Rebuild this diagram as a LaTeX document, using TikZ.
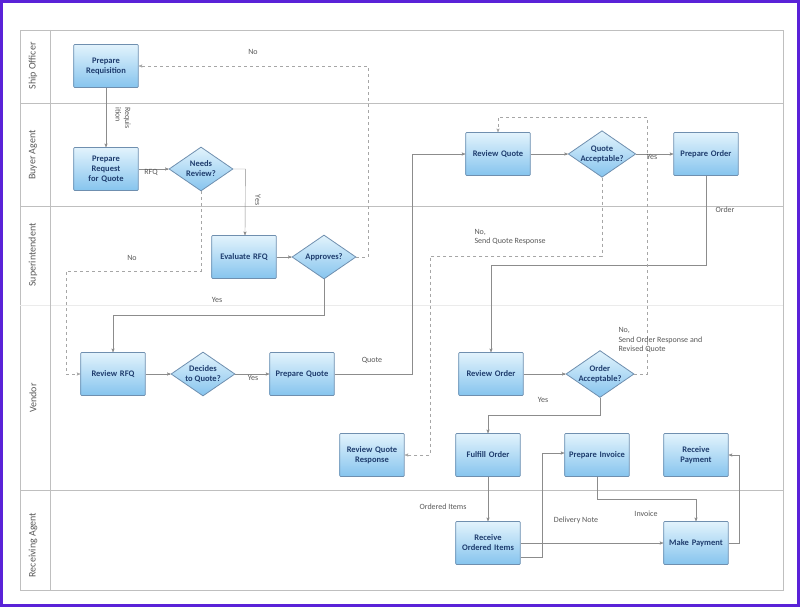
\documentclass[tikz,border=0pt]{standalone}
\usepackage{fontspec}
\setmainfont{Carlito}
\usepackage{tikz}
\usetikzlibrary{arrows, shapes.geometric, backgrounds}
\definecolor{boxtop}{HTML}{E2F3FC}
\definecolor{boxbot}{HTML}{86C4EE}
\definecolor{boxline}{HTML}{6F8FAF}
\definecolor{boxtext}{HTML}{1F3D6E}
\definecolor{frame}{HTML}{5A22D8}
\tikzstyle{task}=[rectangle, draw=boxline, top color=boxtop, bottom color=boxbot, thick, minimum width=64pt, minimum height=43pt, text width=58pt, align=center, font=\fontsize{8.5}{10}\selectfont\bfseries, text=boxtext, rounded corners=1pt]
\tikzstyle{decision}=[diamond, draw=boxline, top color=boxtop, bottom color=boxbot, thick, aspect=1.45, minimum width=64pt, minimum height=44pt, inner sep=0pt, align=center, font=\fontsize{8.5}{10}\selectfont\bfseries, text=boxtext]
\tikzstyle{flow}=[draw=black!45, -stealth']
\tikzstyle{alt}=[draw=black!35, dashed, -stealth']
\tikzstyle{lbl}=[font=\fontsize{8}{9.5}\selectfont, text=black!65, align=left]
\tikzstyle{lane}=[font=\fontsize{10}{12}\selectfont, text=black!65, rotate=90]

\begin{document}
\begin{tikzpicture}[x=1pt, y=-1pt]
    \useasboundingbox (0,0) rectangle (800,607);
    \draw[frame, line width=3pt] (1.5,1.5) rectangle (798.5,605.5);

    % lanes
    \draw[black!25] (20,30) rectangle (783,590);
    \foreach \y in {103, 206, 490}
        \draw[black!25] (20,\y) -- (783,\y);
    \draw[black!8] (20,305) -- (783,305);
    \draw[black!25] (50,30) -- (50,590);
    \node[lane] (ship) at (33,66) {Ship Officer};
    \node[lane] (buyer) at (33,155) {Buyer Agent};
    \node[lane] (super) at (33,255) {Superintendent};
    \node[lane] (vendor) at (33,398) {Vendor};
    \node[lane] (recv) at (33,545) {Receiving Agent};

    % tasks
    \node[task] (prepreq) at (106,66) {Prepare Requisition};
    \node[task] (preprfq) at (106,169) {Prepare Request for Quote};
    \node[decision] (needs) at (201,169) {Needs\\Review?};
    \node[task] (evalrfq) at (244,257) {Evaluate RFQ};
    \node[decision] (approves) at (324,257) {Approves?};
    \node[task] (reviewrfq) at (113,374) {Review RFQ};
    \node[decision] (decides) at (203,374) {Decides\\to Quote?};
    \node[task] (prepquote) at (302,374) {Prepare Quote};
    \node[task] (reviewquote) at (498,154) {Review Quote};
    \node[decision] (quoteok) at (602,154) {Quote\\Acceptable?};
    \node[task] (preporder) at (706,154) {Prepare Order};
    \node[task] (revieworder) at (491,374) {Review Order};
    \node[decision] (orderok) at (600,374) {Order\\Acceptable?};
    \node[task] (quoteresp) at (372,455) {Review Quote Response};
    \node[task] (fulfill) at (488,455) {Fulfill Order};
    \node[task] (invoice) at (597,455) {Prepare Invoice};
    \node[task] (recpay) at (696,455) {Receive Payment};
    \node[task] (recitems) at (488,543) {Receive Ordered Items};
    \node[task] (makepay) at (696,543) {Make Payment};

    % connectors
    \draw[flow] (prepreq) -- (preprfq);
    \node[lbl, rotate=-90] (lreq) at (123,118) {Requis\\ition};
    \draw[flow] (preprfq) -- (needs);
    \node[lbl] (lrfq) at (151,172) {RFQ};
    \draw[flow] (needs.east) -- ++(12,0) |- ++(0,0) -- (evalrfq.north -| 245,0);
    \node[lbl, rotate=-90] (lyes1) at (258,200) {Yes};
    \draw[alt] (needs.south) |- (66,271) |- (reviewrfq.west);
    \node[lbl] (lno1) at (132,258) {No};
    \draw[flow] (evalrfq) -- (approves);
    \draw[alt] (approves.east) -- (368,257) |- (prepreq.east);
    \node[lbl] (lno2) at (253,52) {No};
    \draw[flow] (approves.south) |- (113,315) -- (reviewrfq.north);
    \node[lbl] (lyes2) at (217,300) {Yes};
    \draw[flow] (reviewrfq) -- (decides);
    \draw[flow] (decides) -- (prepquote);
    \node[lbl] (lyes3) at (253,378) {Yes};
    \draw[flow] (prepquote.east) -- (412,374) |- (reviewquote.west);
    \node[lbl] (lquote) at (372,360) {Quote};
    \draw[flow] (reviewquote) -- (quoteok);
    \draw[flow] (quoteok) -- (preporder);
    \node[lbl] (lyes4) at (652,157) {Yes};
    \draw[alt] (quoteok.south) |- (430,256) |- (quoteresp.east);
    \node[lbl, anchor=west] (lno3) at (471,237) {No,\\Send Quote Response};
    \draw[flow] (preporder.south) |- (491,265) -- (revieworder.north);
    \node[lbl] (lorder) at (725,210) {Order};
    \draw[flow] (revieworder) -- (orderok);
    \draw[alt] (orderok.east) -- (647,374) |- (498,117) -- (reviewquote.north);
    \node[lbl, anchor=west] (lno4) at (615,340) {No,\\Send Order Response and\\Revised Quote};
    \draw[flow] (orderok.south) |- (488,415) -- (fulfill.north);
    \node[lbl] (lyes5) at (543,400) {Yes};
    \draw[flow] (fulfill) -- (recitems);
    \node[lbl] (litems) at (443,507) {Ordered Items};
    \draw[flow] ([yshift=-14pt]recitems.east) -| (542,453) -- (invoice.west |- 0,453);
    \node[lbl] (ldel) at (576,520) {Delivery Note};
    \draw[flow] (recitems) -- (makepay);
    \draw[flow] (invoice.south) |- (696,499) -- (makepay.north);
    \node[lbl] (linv) at (646,514) {Invoice};
    \draw[flow] (makepay.east) -| (739,455) -- (recpay.east);
\end{tikzpicture}
\end{document}
